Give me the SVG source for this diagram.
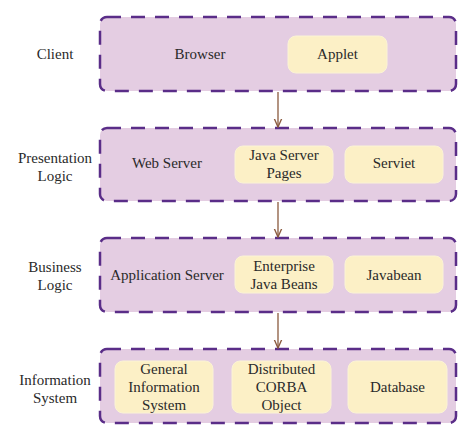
<svg xmlns="http://www.w3.org/2000/svg" width="474" height="441" viewBox="0 0 474 441">
<style>
.layer{fill:#e4cde2;stroke:#5a2d88;stroke-width:2.5;stroke-dasharray:14 10}
.box{fill:#fcf0c6;stroke:#fbf3d6;stroke-width:1}
text{font-family:"Liberation Serif","DejaVu Serif",serif;font-size:15px;fill:#2a2a2a;text-anchor:middle}
.conn{stroke:#8a5a3e;stroke-width:1.3;fill:none}
</style>
<defs>
<marker id="ah" viewBox="0 0 10 10" refX="9" refY="5" markerWidth="7" markerHeight="7" orient="auto">
<path d="M0,1 L9,5 L0,9" fill="none" stroke="#8a5a3e" stroke-width="1.5"/>
</marker>
</defs>
<rect width="474" height="441" fill="#ffffff"/>
<g id="layer-client">
<rect class="layer" x="100" y="17" width="356" height="74" rx="7"/>
<text x="55" y="59">Client</text>
<text x="200" y="59">Browser</text>
</g>
<g id="node-applet">
<rect class="box" x="288" y="36" width="99" height="37" rx="8"/>
<text x="337.5" y="59">Applet</text>
</g>
<g id="layer-presentation">
<rect class="layer" x="100" y="128" width="356" height="73" rx="7"/>
<text x="55" y="163">Presentation</text>
<text x="55" y="181">Logic</text>
<text x="167" y="168">Web Server</text>
</g>
<g id="node-jsp">
<rect class="box" x="235" y="146" width="98" height="37" rx="8"/>
<text x="284" y="160">Java Server</text>
<text x="284" y="178">Pages</text>
</g>
<g id="node-servlet">
<rect class="box" x="345" y="146" width="98" height="37" rx="8"/>
<text x="394" y="168">Serviet</text>
</g>
<g id="layer-business">
<rect class="layer" x="100" y="238" width="356" height="74" rx="7"/>
<text x="55" y="272">Business</text>
<text x="55" y="290">Logic</text>
<text x="167" y="280">Application Server</text>
</g>
<g id="node-ejb">
<rect class="box" x="235" y="256" width="98" height="37" rx="8"/>
<text x="284" y="271">Enterprise</text>
<text x="284" y="289">Java Beans</text>
</g>
<g id="node-javabean">
<rect class="box" x="345" y="256" width="98" height="37" rx="8"/>
<text x="394" y="280">Javabean</text>
</g>
<g id="layer-information">
<rect class="layer" x="100" y="349" width="356" height="74" rx="7"/>
<text x="55" y="385">Information</text>
<text x="55" y="403">System</text>
</g>
<g id="node-gis">
<rect class="box" x="115" y="361" width="98" height="52" rx="8"/>
<text x="164" y="374">General</text>
<text x="164" y="392">Information</text>
<text x="164" y="410">System</text>
</g>
<g id="node-corba">
<rect class="box" x="232" y="361" width="99" height="52" rx="8"/>
<text x="281.5" y="374">Distributed</text>
<text x="281.5" y="392">CORBA</text>
<text x="281.5" y="410">Object</text>
</g>
<g id="node-database">
<rect class="box" x="348" y="361" width="99" height="52" rx="8"/>
<text x="397.5" y="392">Database</text>
</g>
<g id="connectors">
<line class="conn" x1="278" y1="92" x2="278" y2="127" marker-end="url(#ah)"/>
<line class="conn" x1="278" y1="202" x2="278" y2="237" marker-end="url(#ah)"/>
<line class="conn" x1="278" y1="313" x2="278" y2="348" marker-end="url(#ah)"/>
</g>
</svg>
